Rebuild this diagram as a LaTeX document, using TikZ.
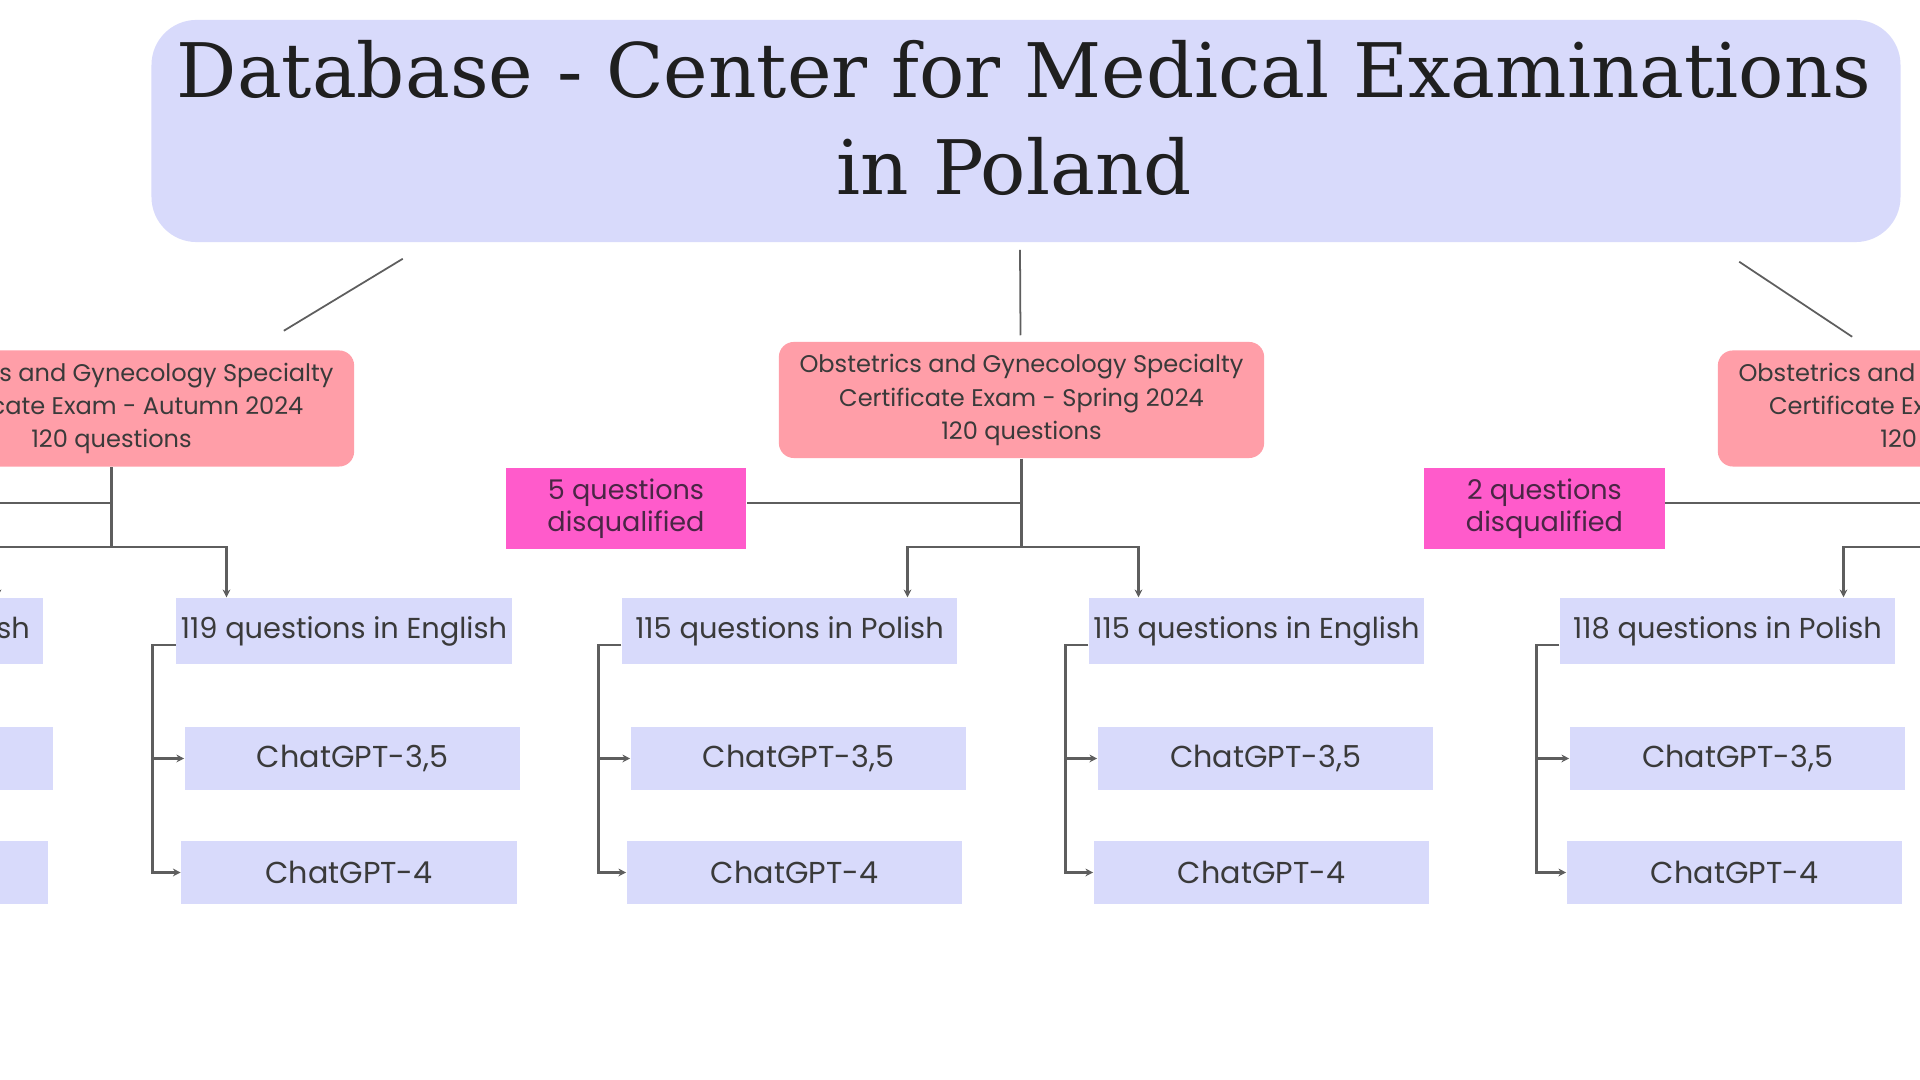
\documentclass[tikz,border=0pt]{standalone}
\usepackage{fontspec}
\setmainfont{Poppins}
\newfontfamily\titlefont{DejaVu Serif}
\usetikzlibrary{calc,arrows.meta}
\definecolor{lav}{HTML}{D8DAFB}
\definecolor{pinkbox}{HTML}{FF9EA8}
\definecolor{mag}{HTML}{FF5BCB}
\definecolor{lineg}{HTML}{5E5E5E}
\definecolor{txtg}{HTML}{3A3A3A}
\definecolor{txtm}{HTML}{4A2645}
\tikzset{
  titlebox/.style={fill=lav, rounded corners=0.45cm, minimum width=17.48cm, minimum height=2.22cm, inner sep=0pt},
  titletext/.style={align=center, inner sep=0pt, text=black!88, font=\titlefont\fontsize{21.4}{27.6}\selectfont},
  exam/.style={fill=pinkbox, rounded corners=0.15cm, minimum width=4.85cm, minimum height=1.16cm, inner sep=0pt, align=center, text=txtg, font=\fontsize{6.85}{9.4}\selectfont},
  dq/.style={fill=mag, minimum width=2.4cm, minimum height=0.81cm, inner sep=0pt, align=center, text=txtm, font=\fontsize{7.7}{9.1}\selectfont},
  lang/.style={fill=lav, minimum width=3.35cm, minimum height=0.66cm, inner sep=0pt, text=txtg, font=\fontsize{8.2}{10}\selectfont},
  model/.style={fill=lav, minimum width=3.35cm, minimum height=0.63cm, inner sep=0pt, text=txtg, font=\fontsize{8.6}{10}\selectfont},
  conn/.style={draw=lineg, line width=0.8pt},
  thinconn/.style={draw=lineg, line width=0.5pt},
  tip/.style={-{Stealth[length=2.2pt,width=2.2pt]}}
}
\begin{document}
\begin{tikzpicture}[x=0.01cm,y=-0.01cm]
\useasboundingbox (0,0) rectangle (1920,1080);
\fill[white] (0,0) rectangle (1920,1080);
\clip (0,0) rectangle (1920,1080);

% title
\node[titlebox] (title) at (1026,131) {};
\node[titletext] (titletxt) at (1024,118) {Database - Center for Medical Examinations\\in Poland\hspace*{5.6pt}};

% exam boxes
\node[exam] (exL) at (111.5,408.5) {Obstetrics and Gynecology Specialty\\Certificate Exam - Autumn 2024\\120 questions};
\node[exam] (exC) at (1021.5,400) {Obstetrics and Gynecology Specialty\\Certificate Exam - Spring 2024\\120 questions};
\node[exam] (exR) at (1960.5,408.5) {Obstetrics and Gynecology Specialty\\Certificate Exam - Autumn 2023\\120 questions};

% disqualified
\node[dq] (dqC) at (626,508.5) {5 questions\\disqualified};
\node[dq] (dqR) at (1544.5,508.5) {2 questions\\disqualified};
\coordinate (dqL) at (-30,502);

% language boxes
\node[lang] (lpL) at (-124.5,631) {119 questions in Polish};
\node[lang] (leL) at (344,631) {119 questions in English};
\node[lang] (lpC) at (789.5,631) {115 questions in Polish};
\node[lang] (leC) at (1256.5,631) {115 questions in English};
\node[lang] (lpR) at (1727.5,631) {118 questions in Polish};

% model boxes
\node[model] (a1) at (-114.5,758.5) {ChatGPT-3,5};
\node[model] (b1) at (-119.5,872.5) {ChatGPT-4};
\node[model] (a2) at (352.5,758.5) {ChatGPT-3,5};
\node[model] (b2) at (349,872.5) {ChatGPT-4};
\node[model] (a3) at (798.5,758.5) {ChatGPT-3,5};
\node[model] (b3) at (794.5,872.5) {ChatGPT-4};
\node[model] (a4) at (1265.5,758.5) {ChatGPT-3,5};
\node[model] (b4) at (1261.5,872.5) {ChatGPT-4};
\node[model] (a5) at (1737.5,758.5) {ChatGPT-3,5};
\node[model] (b5) at (1734.5,872.5) {ChatGPT-4};

% title connectors
\draw[thinconn] ($(title.south west)+(252,16)$) -- ($(exL.north east)+(-71,-19)$);
\draw[thinconn] ($(title.south)+(-6,7)$) -- ($(exC.north)+(-1,-6)$);
\draw[thinconn] ($(title.south east)+(-162,19)$) -- ($(exR.north west)+(135,-13)$);

% trees
\foreach \ex/\dq/\lp/\l in {exL/dqL/lpL/114, exC/dqC/lpC/114, exR/dqR/lpR/117}{
  \draw[conn] (\ex.south) -- (\ex.south |- 0,547) coordinate (j);
  \draw[conn] (\ex.south |- 0,503) -- (\dq.east |- 0,503);
  \draw[conn,tip] (j) -- ++(-\l,0) coordinate (p) -- (p |- \lp.north);
}
\draw[conn,tip] (exL.south |- 0,547) -- ++(115,0) coordinate (q1) -- (q1 |- leL.north);
\draw[conn,tip] (exC.south |- 0,547) -- ++(117,0) coordinate (q2) -- (q2 |- leC.north);

% brackets
\foreach \lg/\ma/\mb in {lpL/a1/b1, leL/a2/b2, lpC/a3/b3, leC/a4/b4, lpR/a5/b5}{
  \draw[conn,tip] ($(\lg.west)+(0,14)$) -- ++(-23,0) |- (\ma.west);
  \draw[conn,tip] ($(\lg.west)+(0,14)$) -- ++(-23,0) |- (\mb.west);
}
\end{tikzpicture}
\end{document}
